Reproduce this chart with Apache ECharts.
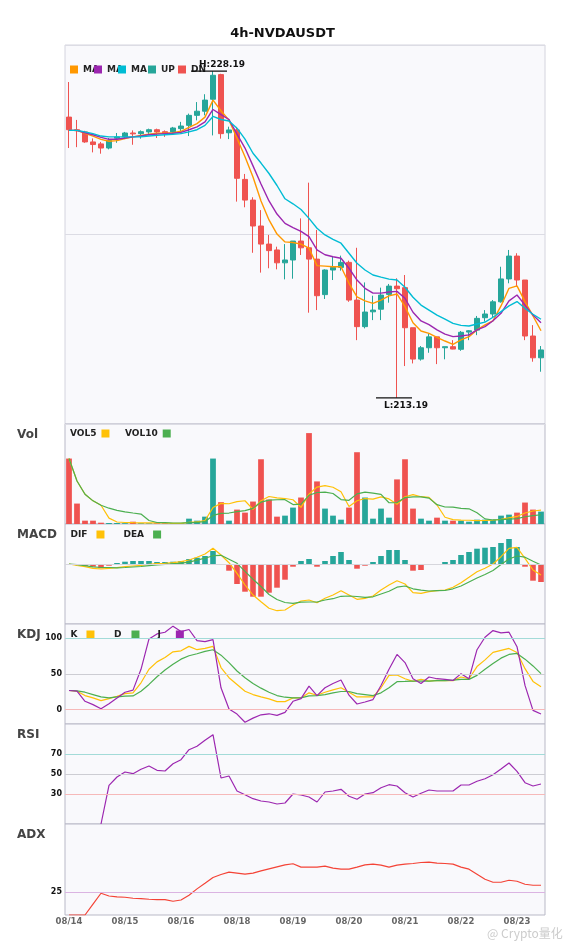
<!DOCTYPE html>
<html><head><meta charset="utf-8">
<script src="https://cdn.jsdelivr.net/npm/echarts@6.0.0/dist/echarts.min.js"></script>
<style>html,body{margin:0;padding:0;background:#fff}#main{width:565px;height:950px}</style>
</head><body><div id="main"></div>
<script>
// ---------------- data ----------------
const dates = [
 '08/14 00:00','08/14 04:00','08/14 08:00','08/14 12:00','08/14 16:00','08/14 20:00','08/15 00:00',
 '08/15 04:00','08/15 08:00','08/15 12:00','08/15 16:00','08/15 20:00','08/16 00:00','08/16 04:00',
 '08/16 08:00','08/16 12:00','08/16 16:00','08/17 16:00','08/17 20:00','08/18 00:00','08/18 04:00',
 '08/18 08:00','08/18 12:00','08/18 16:00','08/18 20:00','08/19 00:00','08/19 04:00','08/19 08:00',
 '08/19 12:00','08/19 16:00','08/19 20:00','08/20 00:00','08/20 04:00','08/20 08:00','08/20 12:00',
 '08/20 16:00','08/20 20:00','08/21 00:00','08/21 04:00','08/21 08:00','08/21 12:00','08/21 16:00',
 '08/21 20:00','08/22 00:00','08/22 02:00','08/22 05:00','08/22 08:00','08/22 11:00','08/22 14:00',
 '08/22 17:00','08/22 20:00','08/22 23:00','08/23 00:00','08/23 01:00','08/23 02:00','08/23 03:00',
 '08/23 04:00','08/23 08:00','08/23 12:00','08/23 16:00'
];
const opens = [226.08,225.50,225.40,224.94,224.85,224.66,225.11,225.17,225.35,225.32,
 225.40,225.50,225.41,225.40,225.55,225.70,226.16,226.35,226.90,228.03,
 225.36,225.49,223.22,222.27,221.08,220.25,219.98,219.39,219.52,220.39,
 220.08,219.56,217.93,219.06,219.18,219.41,217.68,216.46,217.14,217.26,
 217.94,218.32,218.25,216.41,214.97,215.49,215.99,215.49,215.54,215.42,
 216.21,216.30,216.87,217.04,217.60,218.65,219.70,218.60,216.03,215.03];
const closes = [225.50,225.45,224.94,224.82,224.66,225.01,225.17,225.35,225.31,225.41,
 225.50,225.40,225.35,225.58,225.67,226.16,226.35,226.86,228.00,225.32,
 225.49,223.27,222.27,221.08,220.25,219.95,219.39,219.52,220.39,220.08,
 219.56,217.88,219.06,219.18,219.41,217.68,216.46,217.13,217.22,217.91,
 218.32,218.20,216.41,214.97,215.49,215.99,215.49,215.54,215.43,216.20,
 216.27,216.84,217.04,217.60,218.65,219.70,218.60,216.03,215.03,215.39];
const lows = [224.66,224.70,224.90,224.46,224.40,224.60,224.90,225.07,224.81,225.09,
 225.27,225.12,225.17,225.27,225.32,225.21,225.93,226.16,225.24,225.09,
 225.07,222.20,221.94,219.85,218.94,219.14,219.09,218.63,218.66,219.75,
 217.10,217.22,217.73,218.60,219.03,217.60,215.84,216.38,216.76,216.76,
 217.56,213.19,214.65,214.77,214.90,215.26,214.74,214.96,215.42,215.35,
 215.84,216.07,216.69,216.89,217.56,218.45,218.29,215.84,214.85,214.39];
const highs = [227.69,225.95,225.45,225.10,224.94,225.12,225.35,225.40,225.47,225.47,
 225.55,225.55,225.47,225.63,225.86,226.24,226.77,227.13,228.19,228.07,
 225.64,225.63,223.47,222.40,221.81,220.67,220.13,220.25,220.39,221.43,
 223.07,220.90,219.09,219.67,219.72,219.49,220.08,218.49,217.88,218.25,
 218.42,218.68,218.83,216.41,215.57,216.15,215.99,215.54,215.84,216.26,
 216.30,216.95,217.22,217.68,219.21,219.98,219.83,218.60,216.53,215.57];
const ma5 = [225.47,225.47,225.34,225.21,225.06,224.97,225.00,225.09,225.17,225.24,
 225.30,225.34,225.34,225.36,225.43,225.61,225.78,226.08,226.86,226.37,
 225.94,225.11,224.26,223.33,222.23,221.36,220.71,220.35,220.32,220.25,
 220.06,219.26,219.24,219.21,219.21,218.45,217.83,217.64,217.53,217.68,
 217.87,217.96,217.38,216.64,216.26,216.15,215.97,215.80,215.65,215.85,
 216.00,216.31,216.54,216.73,217.41,218.22,218.33,217.61,216.95,216.27];
const ma10 = [225.47,225.47,225.36,225.27,225.15,225.06,225.06,225.12,225.17,225.21,
 225.27,225.30,225.32,225.34,225.38,225.50,225.63,225.86,226.43,226.19,
 225.97,225.30,224.66,223.84,223.01,222.23,221.63,221.20,221.01,220.83,
 220.59,219.98,219.76,219.67,219.60,219.14,218.60,218.22,218.00,218.00,
 218.05,218.08,217.76,217.12,216.72,216.55,216.31,216.12,216.00,216.03,
 216.08,216.31,216.46,216.73,217.07,217.64,217.91,217.45,216.99,216.64];
const ma20 = [225.47,225.47,225.40,225.32,225.21,225.17,225.17,225.17,225.17,225.18,
 225.21,225.24,225.27,225.29,225.32,225.40,225.50,225.70,226.11,225.97,
 225.90,225.57,225.07,224.42,223.97,223.49,222.94,222.33,222.10,221.84,
 221.43,220.98,220.67,220.47,220.29,219.83,219.37,219.06,218.83,218.73,
 218.64,218.60,218.27,217.81,217.45,217.22,216.99,216.80,216.61,216.52,
 216.49,216.58,216.67,216.89,217.15,217.41,217.61,217.30,217.03,216.80];
const volume = [65,20.3,3.3,3.3,1.3,1,1,0.8,2.3,0.8,
 0.7,0.7,0.7,0.8,0.8,5.3,3.3,7.3,65,21.7,
 3.3,14.3,11.3,22.3,64.3,24.3,7.3,8.3,16.3,26.3,
 90.3,42.3,15.3,8.3,4.3,16.3,71.3,26.3,5.3,15.3,
 6.3,44.3,64.3,15.3,5.3,3.3,6.3,3.3,3.3,3.3,
 2.3,4.3,4.3,4.3,8.3,9.3,11.3,21.3,14.3,12.3];
const vol5 = [65,42.7,29.5,23,18.6,5.8,2.0,1.5,1.3,1.2,
 1.1,1.1,1.0,0.7,0.7,1.7,2.2,3.5,16.3,20.5,
 20.1,22.3,23.1,14.6,23.1,27.3,25.9,25.3,24.1,16.5,
 29.7,36.7,38.1,36.5,32.1,17.3,23.1,25.3,24.7,26.9,
 24.9,19.5,27.1,29.1,27.1,26.5,18.9,6.7,4.3,3.9,
 3.7,3.3,3.5,3.7,4.7,6.1,7.5,10.9,12.9,13.7];
const vol10 = [65,42.7,29.5,23,18.6,15.7,13.6,12,10.9,9.9,
 3.5,1.5,1.3,1.0,1.0,1.4,1.6,2.3,8.5,10.6,
 10.9,12.3,13.3,15.5,21.8,23.7,24.1,24.2,19.3,19.8,
 28.5,31.3,31.7,30.3,24.3,23.5,29.9,31.7,30.6,29.5,
 21.1,21.3,26.2,26.9,27.0,25.7,19.2,16.9,16.7,15.5,
 15.1,11.1,5.1,4.0,4.3,4.9,5.4,7.2,8.3,9.2];
const dif = [0,-1.5,-2.7,-4.3,-5,-4.3,-3.7,-2.7,-2,-1.3,
 -0.3,0.3,0.7,1.3,2.3,4,6.7,10,15.7,9,
 1.3,-9.3,-21,-31,-37.7,-44.3,-46.7,-46,-41,-37,
 -36,-38.7,-34.3,-31,-26.7,-31,-35.3,-34.3,-32,-26,
 -21,-16.7,-20,-28.7,-29.3,-27.7,-26.7,-26,-23.3,-18.7,
 -13.3,-7.7,-4.3,0,7.3,15.7,16.7,5.7,-6,-11];
const dea = [0,-0.7,-1.7,-2.8,-3.5,-3.5,-3.8,-3.5,-3,-2.5,
 -1.6,-0.8,-0.3,0.2,0.8,1.8,3.8,5.8,8.3,8.7,
 4.7,0.7,-7.4,-15.3,-22.5,-30.5,-35.5,-38.5,-39.3,-38.2,
 -38,-38,-36,-34.7,-32.3,-32,-32.5,-33.4,-32.8,-30,
 -27.3,-23.2,-22,-24.8,-26.2,-27,-26.7,-26.5,-24.8,-22,
 -18,-14,-10.5,-6.5,-0.5,5,8,6.8,2.8,-1];
const macdHist = [0,0,-2,-2.7,-4.3,-1.7,1,2.3,3,3,
 3,2,2,2.3,3,5,6.3,8,13,-1,
 -6.7,-20,-27.7,-32.7,-32.7,-28.7,-23.7,-15.7,-2.7,3,
 5,-2.7,3,8,12,4,-4.7,-1.7,2,8,
 14,14,4,-6.7,-6,-0.7,0,2,4,9,
 12,15.3,16.3,17,21,25,17,-2.7,-16.7,-18];
const kdjK = [26.9,25.9,19.8,16.5,12.7,15.6,18.9,22.6,23.6,37.7,
 56.6,67,73.1,81.1,82.5,88.7,84,85.8,88.7,59,
 44.8,35.4,25.9,21.2,17.9,15.1,11.3,11.3,16.5,16.5,
 23.6,20.3,24.5,27.8,30.7,24.5,17.9,17.9,17.9,30.7,
 48.1,48.6,43.4,39.6,42.5,40.1,41,40.6,40.6,45.8,
 43.4,60.4,69.8,80.2,83,85.8,80.2,57.5,39.6,32.1];
const kdjD = [26.9,26.4,24.5,21.2,17.9,16.5,17.9,18.9,19.3,25.9,
 35.4,46.2,55.7,63.7,70.8,75.5,78.3,81.6,84,76.4,
 66,54.2,44.8,36.8,30.2,24.5,19.8,17.5,16.5,16.5,
 19.3,19.8,21.2,23.6,25.5,25.5,22.6,21.2,19.8,23.6,
 30.7,39.2,39.6,40.1,40.1,40.1,40.6,40.6,41.5,42.5,
 42.5,48.1,56.6,64.6,72.2,77.4,78.8,70.8,61.3,50.5];
const kdjJ = [26.9,25.9,11.8,7.1,1.4,8.5,16.5,24.5,27.4,56.6,
 99.1,106.1,108.5,117,109.4,112.3,96.7,95.3,98.1,30.7,
 0.9,-6.1,-17.5,-11.8,-7.1,-5.7,-8,-3.8,11.8,15.6,
 33,19.8,30.7,36.8,41.5,20.3,8,10.8,14.2,34,
 56.6,77.4,66,43.4,36.8,45.8,43.4,42.5,41,50.5,
 43.4,84,101.4,110.8,107.5,108.5,88.2,34,-0.9,-6.1];
const rsi = [null,null,null,null,0,38.7,47,52,50.3,54.7,
 58,53.7,53,60.3,64.3,74.3,77.7,83.7,89.3,46,
 48,33,29.3,25.3,23,22,20,21,30,29,
 27,22,32,33,34.7,27.7,24.7,30,31.3,36.3,
 39.3,38,31.3,27,30.7,34,33,33,33,39,
 39,42.7,45.3,49.3,55,61,52.7,41.3,38,40];
const adx = [0,0,0,12,23.9,20.9,19.9,19.5,18.4,18,
 17.3,16.9,16.9,15.1,16.5,21.7,28.7,34.9,41.2,44.5,
 47.1,46,44.9,46,48.5,50.7,52.9,55.1,56.3,52.6,
 52.6,52.6,53.7,51.5,50.4,50.4,52.6,55.1,55.9,54.8,
 52.6,54.8,55.9,56.6,57.7,58.1,57,56.6,55.9,52.6,
 50.4,44.9,39.3,36,36,38.2,37.1,33.8,32.7,32.7];
const kdjLevels = [0, 50, 100];
const rsiLevels = [30, 50, 70];
const adxLevels = [25];

// ---------------- chart ----------------
const UPC = '#26a69a', DNC = '#ef5350';
const FONT = 'DejaVu Sans';
const candles = opens.map((o, i) => [o, closes[i], lows[i], highs[i]]);
const isUp = i => closes[i] >= opens[i];
const volUp = volume.map((v, i) => isUp(i) ? v : null);
const volDn = volume.map((v, i) => isUp(i) ? null : v);
const hi = Math.max(...highs), lo = Math.min(...lows);
const hiIdx = highs.indexOf(hi), loIdx = lows.indexOf(lo);
const pad = (hi - lo) * 0.08;

const panels = [
  {top: 45, height: 379}, {top: 424, height: 100}, {top: 524, height: 100},
  {top: 624, height: 100}, {top: 724, height: 100}, {top: 824, height: 91}
];
const grids = panels.map((p, k) => ({
  left: 65, right: 20, top: p.top, height: p.height, show: true,
  backgroundColor: '#f9f9fc', borderColor: k === 0 ? '#d4d4de' : '#b9b9c7', borderWidth: 1
}));
const xAxes = panels.map((p, k) => ({
  type: 'category', gridIndex: k, data: dates, boundaryGap: true,
  axisLine: {show: false}, axisTick: {show: false}, splitLine: {show: false},
  axisLabel: {show: k === 5, interval: 6, formatter: v => v.slice(0, 5), color: '#666',
    fontWeight: 'bold', fontSize: 8.5, margin: 2, fontFamily: FONT}
}));
const hidden = {axisLine: {show: false}, axisTick: {show: false}, splitLine: {show: false}};
const lvlLabel = vals => ({customValues: vals, color: '#111', fontWeight: 'bold', fontSize: 8, margin: 3, fontFamily: FONT});
const yAxes = [
  {type: 'value', gridIndex: 0, min: lo - pad, max: hi + pad, interval: (hi - lo + 2 * pad) / 2,
    axisLine: {show: false}, axisTick: {show: false}, axisLabel: {show: false},
    splitLine: {show: true, lineStyle: {color: '#dcdce4', width: 1}}},
  Object.assign({type: 'value', gridIndex: 1, min: 0, max: v => v.max * 1.1, axisLabel: {show: false}}, hidden),
  Object.assign({type: 'value', gridIndex: 2, min: -60, max: 40, axisLabel: {show: false}}, hidden),
  Object.assign({type: 'value', gridIndex: 3, min: -20, max: 120, axisLabel: lvlLabel(kdjLevels)}, hidden),
  Object.assign({type: 'value', gridIndex: 4, min: 0, max: 100, axisLabel: lvlLabel(rsiLevels)}, hidden),
  Object.assign({type: 'value', gridIndex: 5, min: 0, max: 100, axisLabel: lvlLabel(adxLevels)}, hidden)
];
const lvlColors = ['#f6b9b9', '#cdcdd3', '#a3dbd8'];
const levelLines = (vals, colors) => ({
  silent: true, symbol: 'none', animation: false, label: {show: false},
  data: vals.map((v, i) => ({yAxis: v, lineStyle: {color: colors[i], type: 'solid', width: 1}}))
});
const line = (name, data, color, k, extra) => Object.assign({
  name, type: 'line', data, xAxisIndex: k, yAxisIndex: k, symbol: 'none', showSymbol: false,
  lineStyle: {color, width: 1.2}, itemStyle: {color}, z: 3
}, extra || {});
const mkLbl = {show: true, color: '#111', fontSize: 9, fontWeight: 'bold', fontFamily: FONT};

const series = [
  {name: 'kline', type: 'candlestick', data: candles, xAxisIndex: 0, yAxisIndex: 0, barWidth: '70%',
    itemStyle: {color: UPC, color0: DNC, borderColor: UPC, borderColor0: DNC, borderWidth: 1},
    markPoint: {symbol: 'rect', symbolSize: [36, 1.3], silent: true, animation: false,
      itemStyle: {color: '#111'},
      data: [
        {coord: [hiIdx, hi], symbolOffset: [-4, 0],
          label: Object.assign({position: 'top', distance: 1, offset: [13, 0], formatter: 'H:' + hi.toFixed(2)}, mkLbl)},
        {coord: [loIdx, lo], symbolOffset: [-3, 0],
          label: Object.assign({position: 'bottom', distance: 3, offset: [12, 0], formatter: 'L:' + lo.toFixed(2)}, mkLbl)}
      ]}},
  line('MA5', ma5, '#ff9800', 0, {lineStyle: {color: '#ff9800', width: 1.4}}),
  line('MA10', ma10, '#9c27b0', 0, {lineStyle: {color: '#9c27b0', width: 1.4}}),
  line('MA20', ma20, '#00bcd4', 0, {lineStyle: {color: '#00bcd4', width: 1.4}}),
  {name: 'UP', type: 'bar', data: volUp, xAxisIndex: 1, yAxisIndex: 1, barWidth: '72%', barGap: '-100%', itemStyle: {color: UPC}},
  {name: 'DN', type: 'bar', data: volDn, xAxisIndex: 1, yAxisIndex: 1, barWidth: '72%', barGap: '-100%', itemStyle: {color: DNC}},
  line('VOL5', vol5, '#ffc107', 1),
  line('VOL10', vol10, '#4caf50', 1),
  {name: 'MACD', type: 'bar', data: macdHist, xAxisIndex: 2, yAxisIndex: 2, barWidth: '70%',
    itemStyle: {color: p => p.value >= 0 ? UPC : DNC},
    markLine: levelLines([0], ['#d6d6dc'])},
  line('DIF', dif, '#ffc107', 2),
  line('DEA', dea, '#4caf50', 2),
  line('K', kdjK, '#ffc107', 3, {markLine: levelLines(kdjLevels, lvlColors)}),
  line('D', kdjD, '#4caf50', 3),
  line('J', kdjJ, '#9c27b0', 3),
  line('RSI', rsi, '#9c27b0', 4, {markLine: levelLines(rsiLevels, lvlColors)}),
  line('ADX', adx, '#f44336', 5, {markLine: levelLines(adxLevels, ['#dbb4e2'])})
];

const legendSpec = [
  {name: 'MA5', left: 70, top: 65, align: 'left', text: 'MA'},
  {name: 'MA10', left: 94, top: 65, align: 'left', text: 'MA'},
  {name: 'MA20', left: 118, top: 65, align: 'left', text: 'MA'},
  {name: 'UP', left: 148, top: 65, align: 'left'},
  {name: 'DN', left: 178, top: 65, align: 'left'},
  {name: 'VOL5', left: 70, top: 429, align: 'right', pad: 0},
  {name: 'VOL10', left: 125, top: 429, align: 'right', pad: 0},
  {name: 'DIF', left: 70.5, top: 530, align: 'right', pad: 4},
  {name: 'DEA', left: 123.5, top: 530, align: 'right', pad: 4},
  {name: 'K', left: 70.5, top: 630, align: 'right', pad: 4},
  {name: 'D', left: 114, top: 630, align: 'right', pad: 5},
  {name: 'J', left: 157.5, top: 630, align: 'right', pad: 10}
];
const txt = {fontSize: 9, fontWeight: 'bold', color: '#222', fontFamily: FONT};
const legends = legendSpec.map(s => ({
  data: [s.name], left: s.left, top: s.top, padding: 0, align: s.align, orient: 'horizontal',
  icon: 'rect', itemWidth: 8, itemHeight: 8, selectedMode: false,
  formatter: n => '{t|' + (s.text || n) + '}',
  textStyle: Object.assign({rich: {t: Object.assign({padding: [0, s.pad || 0, 0, 0]}, txt)}}, txt)
}));

const panelTitle = (text, top) => ({text, left: 17, top, padding: 0,
  textStyle: {fontSize: 12, fontWeight: 'bold', color: '#444', fontFamily: FONT}});

const chart = echarts.init(document.getElementById('main'), null, {renderer: 'canvas'});
chart.setOption({
  animation: false,
  backgroundColor: '#ffffff',
  textStyle: {fontFamily: FONT},
  title: [
    {text: '4h-NVDAUSDT', left: 'center', top: 27, padding: 0,
      textStyle: {fontSize: 13, fontWeight: 'bold', color: '#111', fontFamily: FONT}},
    panelTitle('Vol', 429), panelTitle('MACD', 529), panelTitle('KDJ', 629),
    panelTitle('RSI', 729), panelTitle('ADX', 829)
  ],
  legend: legends,
  grid: grids,
  xAxis: xAxes,
  yAxis: yAxes,
  series,
  graphic: [{type: 'text', left: 487, top: 927, silent: true,
    style: {text: '@ Crypto量化', fill: '#cccccc', font: '12px "Noto Sans CJK SC"'}}]
});
</script></body></html>
